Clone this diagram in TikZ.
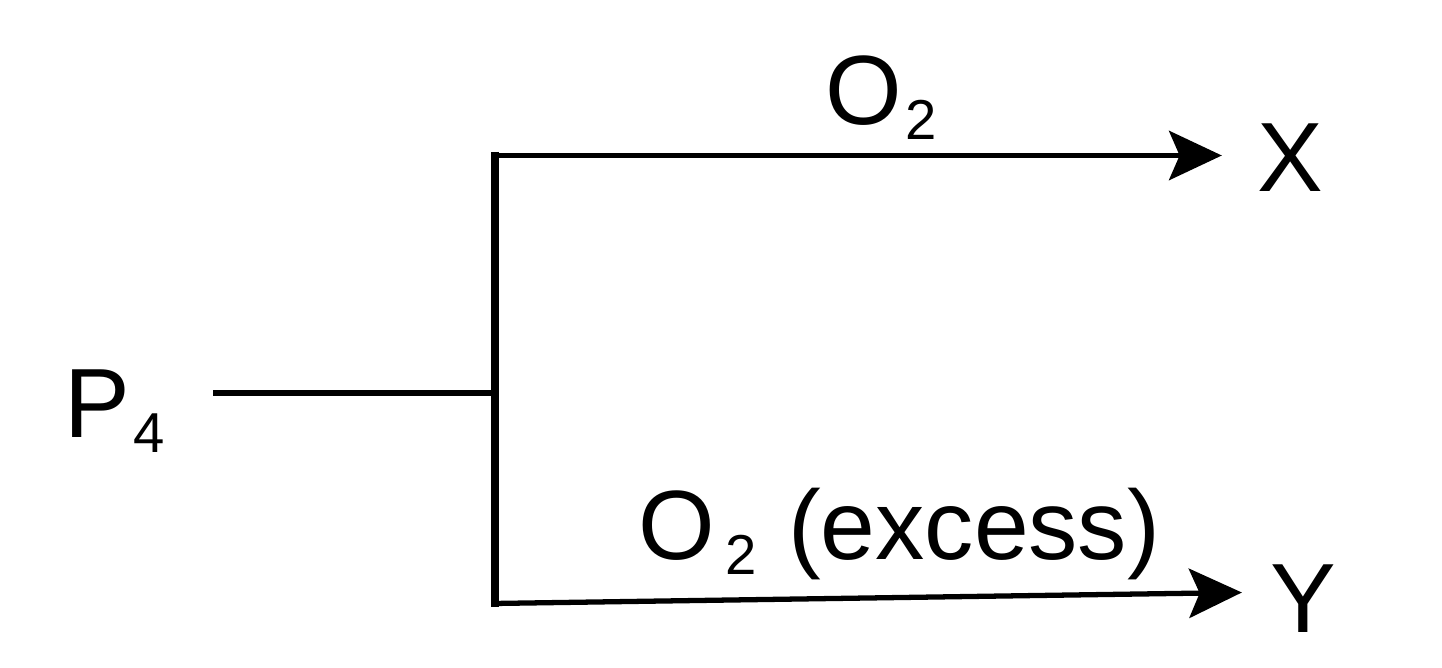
\documentclass[tikz,border=0pt]{standalone}
\usepackage{fontspec}
\setmainfont{Liberation Sans}
\usepackage{tikz}
\usetikzlibrary{arrows.meta}
\newcommand{\lowidx}[1]{\raisebox{-4pt}{\fontsize{16}{16}\selectfont #1}}

\begin{document}
\begin{tikzpicture}[x=0.01cm,y=-0.01cm]
\tikzstyle{every node}+=[inner sep=0pt,anchor=base west,font=\fontsize{28}{32}\selectfont]
\tikzstyle{flow}=[line width=1.5pt,-{Stealth[length=15pt,width=14pt,inset=3pt]}]
\useasboundingbox (0,0) rectangle (1442,668);
\node (P) at (64,438) {P\kern1pt\lowidx{4}};
\node (X) at (1257,192) {X};
\node (Y) at (1270,633) {Y};
\node (O2top) at (825,125) {O\kern1pt\lowidx{2}};
\node (O2exc) at (638,560) {O\kern3pt\lowidx{2}\kern1pt\ (excess)};
\coordinate (src) at (213,393);
\coordinate (fork) at (495,393);
\coordinate (top) at (495,152);
\coordinate (bot) at (495,607);
\draw [black,line width=1.5pt] (src) -- (fork);
\draw [black,line width=2.2pt] (top) -- (bot);
\draw [black,flow,shorten >=10pt] ([yshift=-1pt]top) -- ([yshift=-1pt]top -| X.west);
\draw [black,flow,shorten >=8pt] ([yshift=1pt]bot) -- ([yshift=2pt]Y.west);
\end{tikzpicture}
\end{document}
